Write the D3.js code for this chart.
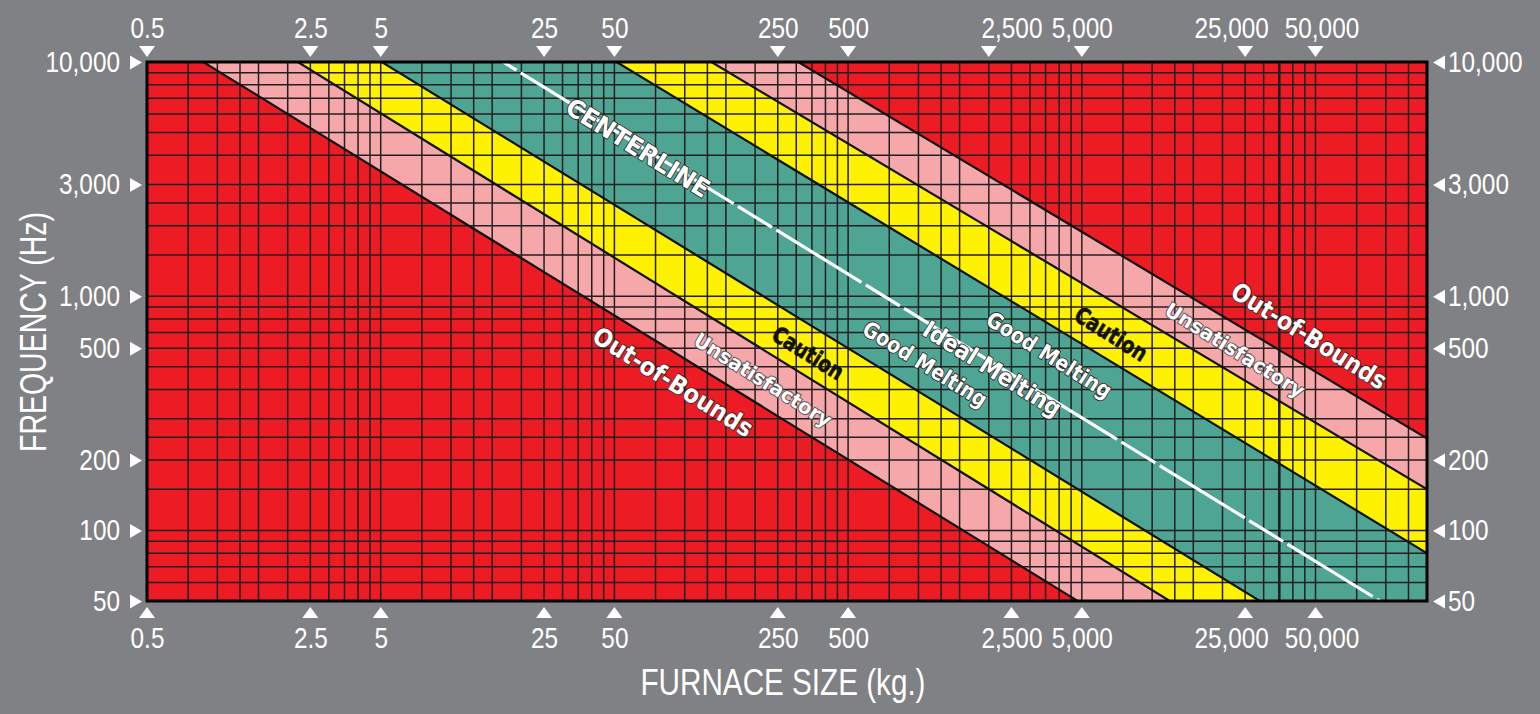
<!DOCTYPE html>
<html><head><meta charset="utf-8">
<script src="https://cdn.jsdelivr.net/npm/d3@7"></script>
<style>
html,body{margin:0;padding:0;background:#808184;}
svg{display:block;}
</style></head><body>
<svg id="chart" width="1540" height="714"></svg>
<script>
// ---------------- DATA ----------------
const xTickValues     = [0.5, 2.5, 5, 25, 50, 250, 500, 2500, 5000, 25000, 50000];
const xTickLabels     = ["0.5","2.5","5","25","50","250","500","2,500","5,000","25,000","50,000"];
const xBottomMarkers  = [0.5, 2.5, 5, 25, 50, 250, 500, 2500, 5000, 25000, 50000];
const xTopMarkers     = [0.5, 2.5, 5, 25, 50, 250, 500, 2000, 5000, 25000, 50000];
const yTickValues = [10000, 3000, 1000, 600, 200, 100, 50];
const yTickLabels = ["10,000","3,000","1,000","500","200","100","50"];

const gridX = [0.75,1,1.25,1.5,2,2.5,3,3.5,4,4.5,5,7.5,
  10,12.5,15,20,25,30,35,40,45,50,75,
  100,125,150,200,250,300,350,400,450,500,750,
  1000,1250,1500,2000,2500,3000,3500,4000,4500,5000,7500,
  10000,12500,15000,20000,25000,30000,35000,40000,45000,50000,75000,100000,125000];
const gridXHeavy = [35000];
const gridY = [9000,8000,7000,6000,5000,4000,3000,2500,2000,1500,
  1000,900,800,700,600,500,400,300,250,200,150,100,90,80,70,60];

// boundary lines (two points each)
const boundaryNames      = ["L1","L2","L3","center","L4","L5","L6"];
const boundaryStartSize  = [0.87, 2.21, 5.05, 16.7, 51.1, 130, 306];
const boundaryStartFreq  = [10000,10000,10000,10000,10000,10000,10000];
const boundaryEndSize    = [4800, 11900, 28900, 94400, 150000, 150000, 150000];
const boundaryEndFreq    = [50, 50, 50, 50, 80, 150, 247];

// zones: filled between a lower and an upper boundary
const zoneNames  = ["Unsatisfactory","Caution","Good Melting"];
const zoneLower  = ["L1","L2","L3"];
const zoneUpper  = ["L6","L5","L4"];

// zone labels
const labelTexts = ["Out-of-Bounds","Unsatisfactory","Caution","Good Melting","Ideal Melting",
                    "Good Melting","Caution","Unsatisfactory","Out-of-Bounds","CENTERLINE"];
const labelSizes = [89, 216, 337, 1067, 2064, 3620, 6670, 22600, 46900, 63];
const labelFreqs = [430, 439, 572, 513, 489, 561, 690, 589, 676, 4294];

// ---------------- STYLE ----------------
const W = 1540, H = 714;
const plot = {left:147, right:1427, top:62, bottom:601};
const colors = {bg:"#808184", red:"#ed1c24", pink:"#f5a7aa", yellow:"#fff200", teal:"#4ea593",
                grid:"#231f20", line:"#111"};
const zoneFill = {"Unsatisfactory":colors.pink, "Caution":colors.yellow, "Good Melting":colors.teal};
const labelStyle = [
  {kind:"white", fs:25,   len:184},
  {kind:"light", fs:20,   len:158},
  {kind:"dark",  fs:23,   len:80},
  {kind:"white", fs:22,   len:142},
  {kind:"white", fs:24,   len:158},
  {kind:"white", fs:22,   len:143},
  {kind:"dark",  fs:23,   len:81},
  {kind:"light", fs:20,   len:160},
  {kind:"white", fs:25,   len:178},
  {kind:"white", fs:25,   len:164}
];
const labelAngle = 32;
const tickFont = "'Liberation Sans',Arial,sans-serif";
const tickFontSize = 29;
const condense = 0.84;
const xLabelShift = {25000:-14, 50000:6};

// ---------------- SCALES ----------------
const x = d3.scaleLog().domain([0.5, 150000]).range([plot.left, plot.right]);
const y = d3.scaleLog().domain([50, 10000]).range([plot.bottom, plot.top]);

const svg = d3.select("#chart");
svg.append("rect").attr("width", W).attr("height", H).attr("fill", colors.bg);

svg.append("defs").append("clipPath").attr("id","plotClip")
  .append("rect").attr("x", plot.left).attr("y", plot.top)
  .attr("width", plot.right - plot.left).attr("height", plot.bottom - plot.top);

const g = svg.append("g").attr("clip-path","url(#plotClip)");
g.append("rect").attr("x", plot.left).attr("y", plot.top)
  .attr("width", plot.right - plot.left).attr("height", plot.bottom - plot.top)
  .attr("fill", colors.red);

// boundary pixel geometry, extended beyond the plot (clipped)
function boundaryPts(name){
  const i = boundaryNames.indexOf(name);
  const p1 = [x(boundaryStartSize[i]), y(boundaryStartFreq[i])];
  const p2 = [x(boundaryEndSize[i]), y(boundaryEndFreq[i])];
  const dx = p2[0]-p1[0], dy = p2[1]-p1[1];
  return [[p1[0]-dx, p1[1]-dy], [p2[0]+dx, p2[1]+dy]];
}

// zones
zoneNames.forEach((z, i) => {
  const a = boundaryPts(zoneLower[i]), b = boundaryPts(zoneUpper[i]);
  g.append("path")
    .attr("d", d3.line()([a[0], a[1], b[1], b[0]]) + "Z")
    .attr("fill", zoneFill[z]);
});

// grid
g.selectAll("line.gx").data(gridX).join("line").attr("class","gx")
  .attr("x1", d => x(d)).attr("x2", d => x(d))
  .attr("y1", plot.top).attr("y2", plot.bottom)
  .attr("stroke", colors.grid)
  .attr("stroke-width", d => gridXHeavy.includes(d) ? 2.6 : 1.5);
g.selectAll("line.gy").data(gridY).join("line").attr("class","gy")
  .attr("y1", d => y(d)).attr("y2", d => y(d))
  .attr("x1", plot.left).attr("x2", plot.right)
  .attr("stroke", colors.grid).attr("stroke-width", 1.5);

// boundary lines
boundaryNames.forEach(n => {
  if (n === "center") return;
  const p = boundaryPts(n);
  g.append("line").attr("x1", p[0][0]).attr("y1", p[0][1])
    .attr("x2", p[1][0]).attr("y2", p[1][1])
    .attr("stroke", colors.line).attr("stroke-width", 2.2);
});
// centerline
{
  const p = boundaryPts("center");
  g.append("line").attr("x1", p[0][0]).attr("y1", p[0][1])
    .attr("x2", p[1][0]).attr("y2", p[1][1])
    .attr("stroke", "#fff").attr("stroke-width", 3.2)
    .attr("stroke-dasharray", "100,5,40,5");
}

// labels
labelTexts.forEach((t, i) => {
  const s = labelStyle[i];
  const cx = x(labelSizes[i]), cy = y(labelFreqs[i]);
  const txt = g.append("text")
    .attr("transform", `translate(${cx},${cy}) rotate(${labelAngle})`)
    .attr("text-anchor","middle").attr("dominant-baseline","central")
    .attr("font-family","'DejaVu Sans',sans-serif").attr("font-weight","bold")
    .attr("font-size", s.fs)
    .attr("textLength", s.len).attr("lengthAdjust","spacingAndGlyphs")
    .text(t);
  if (s.kind === "white") {
    txt.attr("fill","#fff").attr("stroke","#3a2a2a").attr("stroke-width",1.8).attr("paint-order","stroke");
  } else if (s.kind === "light") {
    txt.attr("fill","#fff").attr("stroke","#555").attr("stroke-width",2).attr("paint-order","stroke");
  } else {
    txt.attr("fill","#111").attr("stroke","#111").attr("stroke-width",0.6);
  }
});

// border
svg.append("rect").attr("x", plot.left).attr("y", plot.top)
  .attr("width", plot.right - plot.left).attr("height", plot.bottom - plot.top)
  .attr("fill","none").attr("stroke","#000").attr("stroke-width",3);

// ---------------- AXES ----------------
function styleAxis(sel){
  sel.select(".domain").remove();
  sel.selectAll("text").attr("fill","#fff").attr("font-family", tickFont).attr("font-size", tickFontSize)
    .each(function(){
      const L = this.getComputedTextLength();
      d3.select(this).attr("textLength", L*condense).attr("lengthAdjust","spacingAndGlyphs");
    });
}
const xFmt = (d,i) => xTickLabels[i];
const axB = svg.append("g").attr("transform",`translate(0,${plot.bottom})`)
  .call(d3.axisBottom(x).tickValues(xTickValues).tickFormat(xFmt).tickSize(0).tickPadding(26));
styleAxis(axB);
const axT = svg.append("g").attr("transform",`translate(0,${plot.top})`)
  .call(d3.axisTop(x).tickValues(xTickValues).tickFormat(xFmt).tickSize(0).tickPadding(24));
styleAxis(axT);
[axB, axT].forEach(ax => ax.selectAll(".tick text").attr("x", d => xLabelShift[d] || 0));

// marker triangles
svg.append("g").selectAll("path").data(xBottomMarkers).join("path")
  .attr("transform", d => `translate(${x(d)},${plot.bottom})`)
  .attr("d","M0,6L-8,17L8,17Z").attr("fill","#fff");
svg.append("g").selectAll("path").data(xTopMarkers).join("path")
  .attr("transform", d => `translate(${x(d)},${plot.top})`)
  .attr("d","M0,-5L-8,-16L8,-16Z").attr("fill","#fff");

const axL = svg.append("g").attr("transform",`translate(${plot.left},0)`)
  .call(d3.axisLeft(y).tickValues(yTickValues).tickFormat((d,i)=>yTickLabels[i]).tickSize(0).tickPadding(27));
styleAxis(axL);
axL.selectAll(".tick").append("path").attr("d","M-5,0L-17,-7L-17,7Z").attr("fill","#fff");

const axR = svg.append("g").attr("transform",`translate(${plot.right},0)`)
  .call(d3.axisRight(y).tickValues(yTickValues).tickFormat((d,i)=>yTickLabels[i]).tickSize(0).tickPadding(21));
styleAxis(axR);
axR.selectAll(".tick").append("path").attr("d","M6,0L18,-7L18,7Z").attr("fill","#fff");

// axis titles
svg.append("text").attr("x", 783).attr("y", 695).attr("text-anchor","middle")
  .attr("fill","#fff").attr("font-family", tickFont).attr("font-size", 37)
  .attr("textLength", 285).attr("lengthAdjust","spacingAndGlyphs")
  .text("FURNACE SIZE (kg.)");
svg.append("text").attr("transform","translate(46,332) rotate(-90)").attr("text-anchor","middle")
  .attr("fill","#fff").attr("font-family", tickFont).attr("font-size", 36)
  .attr("textLength", 240).attr("lengthAdjust","spacingAndGlyphs")
  .text("FREQUENCY (Hz)");
</script>
</body></html>
